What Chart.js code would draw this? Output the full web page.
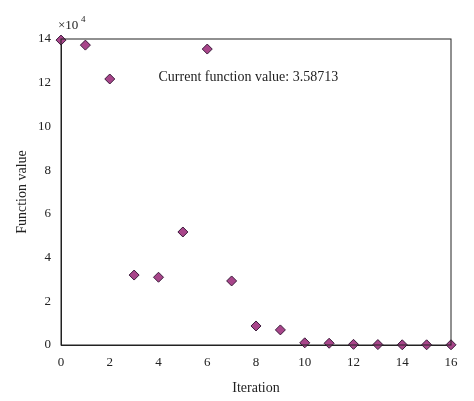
<!DOCTYPE html>
<html>
<head>
<meta charset="UTF-8">
<script src="https://cdn.jsdelivr.net/npm/chart.js"></script>
<style>
  body { margin: 0; background: #fff; }
  #wrap { width: 474px; height: 401px; }
</style>
</head>
<body>
<div id="wrap"><canvas id="c"></canvas></div>
<script>
const iterations = [0, 1, 2, 3, 4, 5, 6, 7, 8, 9, 10, 11, 12, 13, 14, 15, 16];
const values = [13.95, 13.72, 12.17, 3.2, 3.1, 5.17, 13.54, 2.93, 0.87, 0.69, 0.1, 0.08, 0.03, 0.02, 0.01, 0.01, 0.01];
const annotationText = 'Current function value: 3.58713';
const font = 'Liberation Serif, Times New Roman, serif';

const frame = {
  id: 'frame',
  afterDraw(chart) {
    const { ctx, chartArea: a } = chart;
    ctx.save();
    ctx.strokeStyle = '#222';
    ctx.lineWidth = 1;
    ctx.strokeRect(a.left, a.top, a.right - a.left, a.bottom - a.top);
    ctx.fillStyle = '#222';
    ctx.font = '13px ' + font;
    ctx.textBaseline = 'alphabetic';
    ctx.fillText('\u00d710', a.left - 3, a.top - 10);
    ctx.font = '9px ' + font;
    ctx.fillText('4', a.left + 20, a.top - 17);
    ctx.font = '14px ' + font;
    ctx.fillText(annotationText, chart.scales.x.getPixelForValue(4), chart.scales.y.getPixelForValue(12.1));
    ctx.restore();
  }
};

new Chart(document.getElementById('c'), {
  type: 'scatter',
  data: {
    datasets: [{
      data: iterations.map((x, i) => ({ x, y: values[i] })),
      pointStyle: 'rectRot',
      pointRadius: 5,
      backgroundColor: '#a8458a',
      borderColor: '#3a1a3a',
      borderWidth: 1,
      clip: false
    }]
  },
  options: {
    responsive: true,
    maintainAspectRatio: false,
    animation: false,
    layout: { padding: { top: 39, right: 23, left: 0, bottom: 0 } },
    plugins: { legend: { display: false }, tooltip: { enabled: false } },
    scales: {
      x: {
        min: 0, max: 16,
        ticks: { stepSize: 2, color: '#222', font: { family: font, size: 13 }, padding: 2 },
        grid: { display: false, drawTicks: true },
        border: { color: '#222' },
        title: { display: true, text: 'Iteration', color: '#222', font: { family: font, size: 14 } },
        afterFit(s) { s.height = 56; }
      },
      y: {
        min: 0, max: 14,
        ticks: { stepSize: 2, color: '#222', font: { family: font, size: 13 }, padding: 2 },
        grid: { display: false },
        border: { color: '#222' },
        title: { display: true, text: 'Function value', color: '#222', font: { family: font, size: 14 }, padding: { top: 14, bottom: 4 } },
        afterFit(s) { s.width = 61; }
      }
    }
  },
  plugins: [frame]
});
</script>
</body>
</html>
